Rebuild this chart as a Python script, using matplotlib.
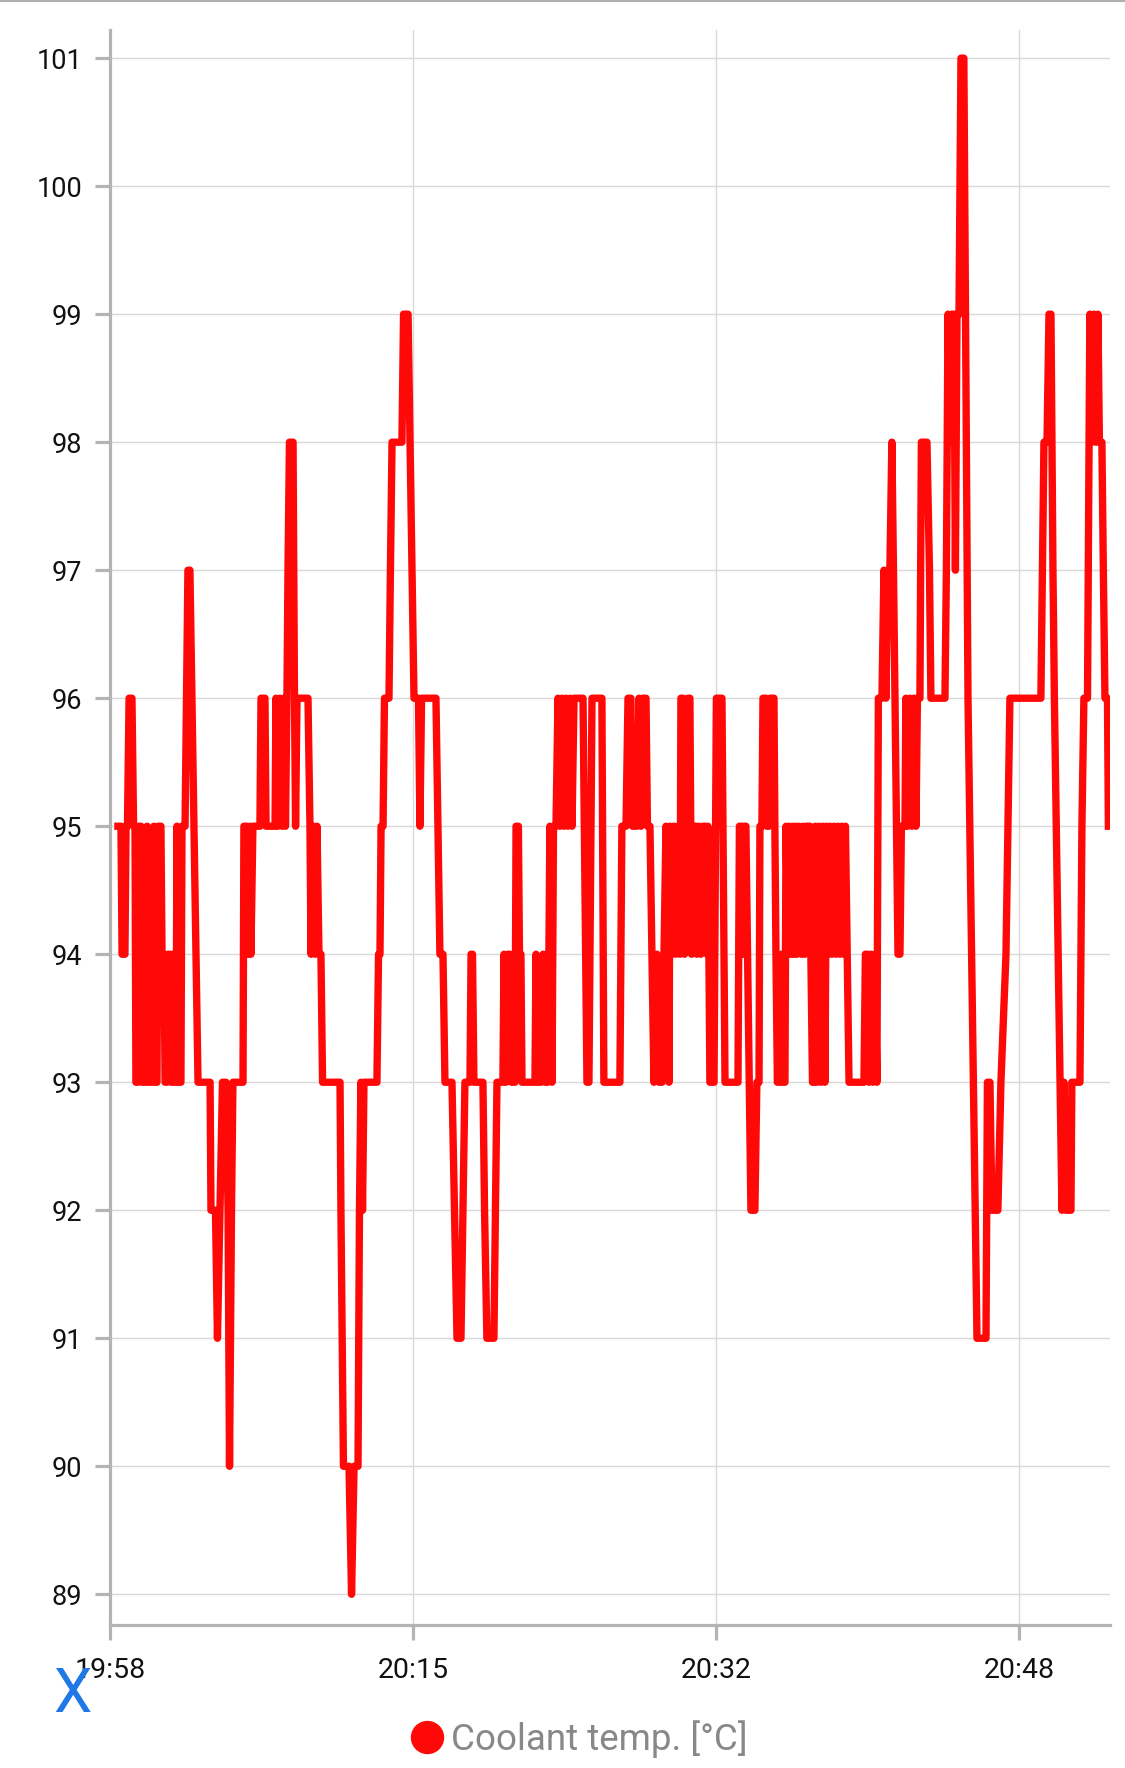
"""
Coolant temperature log (OBD session 19:58 - 20:52) as a line chart.
"""

import matplotlib
matplotlib.use("Agg")
import matplotlib.pyplot as plt
from matplotlib.lines import Line2D

# minutes after 19:58 (left edge of the chart)
minutes = [
    0.44, 0.61, 0.67, 0.83, 0.89, 0.97, 1.06, 1.22, 1.31, 1.39, 1.44, 1.56, 1.61, 1.72,
    1.78, 1.89, 1.94, 2.06, 2.11, 2.22, 2.28, 2.39, 2.44, 2.56, 2.61, 2.67, 2.83, 2.89,
    3.00, 3.06, 3.17, 3.22, 3.33, 3.39, 3.50, 3.56, 3.67, 3.72, 3.83, 3.94, 4.00, 4.17,
    4.25, 4.33, 4.44, 4.89, 5.56, 5.61, 5.86, 5.97, 6.11, 6.25, 6.44, 6.56, 6.64, 6.75,
    6.83, 7.39, 7.44, 7.61, 7.67, 7.78, 7.83, 7.94, 8.33, 8.39, 8.61, 8.67, 9.17, 9.22,
    9.33, 9.44, 9.56, 9.67, 9.75, 9.83, 9.89, 9.97, 10.17, 10.25, 10.31, 10.39, 11.00,
    11.11, 11.17, 11.28, 11.39, 11.50, 11.61, 11.72, 11.81, 12.78, 12.83, 12.97, 13.28,
    13.42, 13.56, 13.78, 13.86, 13.94, 14.03, 14.11, 14.83, 14.92, 15.00, 15.06, 15.17,
    15.25, 15.50, 15.58, 15.67, 16.22, 16.31, 16.56, 16.67, 16.78, 16.89, 17.14, 17.22,
    17.31, 18.11, 18.33, 18.50, 18.61, 19.00, 19.28, 19.50, 19.72, 20.00, 20.06, 20.14,
    20.22, 20.72, 20.81, 20.94, 21.33, 21.50, 21.83, 21.89, 22.00, 22.11, 22.22, 22.31,
    22.50, 22.56, 22.69, 22.75, 22.83, 22.89, 23.61, 23.67, 23.78, 23.94, 24.06, 24.17,
    24.28, 24.33, 24.44, 24.56, 24.64, 24.78, 24.89, 25.00, 25.11, 25.22, 25.33, 25.44,
    25.56, 25.67, 25.78, 26.28, 26.50, 26.61, 26.78, 27.33, 27.44, 28.33, 28.44, 28.67,
    28.78, 28.94, 29.03, 29.28, 29.39, 29.50, 29.61, 29.78, 29.86, 30.00, 30.11, 30.22,
    30.39, 30.50, 30.67, 30.78, 30.89, 31.00, 31.06, 31.11, 31.22, 31.33, 31.44, 31.56,
    31.67, 31.72, 31.83, 31.92, 32.00, 32.11, 32.22, 32.31, 32.39, 32.56, 32.61, 32.72,
    32.83, 32.94, 33.06, 33.17, 33.22, 33.33, 33.56, 33.69, 34.00, 34.17, 34.89, 34.97,
    35.11, 35.17, 35.25, 35.33, 35.61, 35.83, 35.94, 36.06, 36.11, 36.22, 36.28, 36.44,
    36.50, 36.61, 36.67, 36.89, 36.94, 37.00, 37.08, 37.22, 37.28, 37.39, 37.50, 37.56,
    37.67, 37.72, 37.83, 37.92, 38.00, 38.08, 38.17, 38.25, 38.42, 38.50, 38.61, 38.69,
    38.89, 38.94, 39.03, 39.11, 39.19, 39.28, 39.39, 39.50, 39.61, 39.72, 39.81, 39.89,
    40.00, 40.11, 40.22, 40.33, 40.44, 40.56, 40.67, 40.78, 40.86, 41.06, 41.89, 41.97,
    42.11, 42.17, 42.28, 42.39, 42.50, 42.61, 42.69, 42.89, 43.00, 43.11, 43.22, 43.33,
    43.44, 43.53, 43.78, 43.89, 43.97, 44.17, 44.22, 44.33, 44.44, 44.56, 44.67, 44.78,
    44.86, 45.00, 45.08, 45.39, 45.53, 45.61, 46.39, 46.47, 46.56, 46.67, 46.78, 46.89,
    46.97, 47.06, 47.17, 47.28, 47.44, 47.67, 48.17, 48.67, 48.75, 48.89, 49.00, 49.33,
    49.50, 49.78, 50.00, 51.72, 51.89, 52.06, 52.17, 52.28, 52.39, 52.47, 52.89, 53.00,
    53.11, 53.39, 53.44, 53.89, 54.00, 54.11, 54.31, 54.44, 54.56, 54.67, 54.78, 54.89,
    54.97, 55.11, 55.19, 55.28, 55.42, 55.47,
]

# coolant temperature [°C]
coolant_temp = [
    95, 95, 94, 94, 95, 95, 96, 96, 95, 95, 93, 93, 95, 95,
    93, 94, 93, 95, 93, 94, 93, 93, 95, 93, 93, 95, 95, 94,
    94, 93, 93, 94, 94, 93, 94, 93, 93, 95, 93, 93, 95, 95,
    96, 97, 97, 93, 93, 92, 92, 91, 92, 93, 93, 92, 90, 92,
    93, 93, 95, 95, 94, 95, 94, 95, 95, 96, 96, 95, 95, 96,
    95, 96, 95, 96, 95, 96, 97, 98, 98, 96, 95, 96, 96,
    95, 94, 95, 94, 95, 94, 94, 93, 93, 92, 90, 90,
    89, 90, 90, 92, 93, 92, 93, 93, 94, 94, 95, 95,
    96, 96, 97, 98, 98, 99, 99, 98, 97, 96, 96, 95,
    96, 96, 94, 94, 93, 93, 91, 91, 93, 93, 94, 94,
    93, 93, 92, 91, 91, 93, 93, 94, 93, 94, 94, 93,
    93, 95, 95, 94, 94, 93, 93, 94, 93, 93, 94, 93,
    94, 93, 95, 93, 95, 95, 96, 95, 96, 95, 96, 95,
    96, 95, 96, 96, 93, 93, 96, 96, 93, 93, 95, 95,
    96, 96, 95, 95, 96, 95, 96, 96, 95, 95, 94, 93,
    94, 93, 93, 94, 95, 94, 93, 95, 94, 95, 94, 95,
    94, 96, 96, 94, 95, 96, 96, 94, 95, 95, 94, 95,
    94, 95, 95, 94, 95, 93, 93, 96, 96, 93, 93, 95,
    95, 94, 95, 95, 92, 92, 93, 93, 95, 95, 96, 96,
    95, 95, 96, 96, 95, 94, 93, 93, 94, 93, 93, 95,
    94, 95, 94, 95, 94, 95, 94, 95, 94, 95, 94, 95,
    95, 94, 93, 93, 95, 93, 95, 93, 95, 93, 95, 94,
    95, 94, 95, 94, 95, 94, 95, 94, 95, 93, 93, 94,
    94, 93, 94, 93, 94, 93, 96, 96, 97, 96, 97, 97,
    98, 97, 94, 94, 95, 95, 96, 95, 96, 95, 96, 95,
    96, 96, 98, 98, 97, 96, 96, 97, 99, 98, 99, 99,
    97, 99, 99, 101, 101, 96, 91, 91, 93, 93, 92, 92,
    93, 94, 96, 96, 98, 98, 99, 99, 97, 96, 92, 93,
    92, 92, 93, 93, 95, 96, 96, 99, 98, 99, 98, 99,
    98, 98, 97, 96, 96, 95,
]

tick_minutes = [0.0, 16.83, 33.67, 50.5]
tick_labels = ["19:58", "20:15", "20:32", "20:48"]
temp_ticks = [89, 90, 91, 92, 93, 94, 95, 96, 97, 98, 99, 100, 101]
series_name = "Coolant temp. [°C]"

FIG_W, FIG_H = 1125, 1768
AXIS_GREY = "#b4b4b4"
GRID_GREY = "#d9d9d9"
RED = "#ff0808"


def plot_coolant(minutes, temps):
    plt.rcParams["font.family"] = ["Roboto", "DejaVu Sans"]

    fig = plt.figure(figsize=(FIG_W / 100, FIG_H / 100), dpi=100)
    fig.patch.set_facecolor("white")
    ax = fig.add_axes([110 / FIG_W, 143 / FIG_H, 1000 / FIG_W, 1595 / FIG_H])

    ax.plot(minutes, temps, color=RED, linewidth=5.3,
            solid_joinstyle="round", zorder=3)

    ax.set_xlim(0, 55.56)
    ax.set_ylim(88.76, 101.22)
    ax.set_xticks(tick_minutes)
    ax.set_xticklabels(tick_labels)
    ax.set_yticks(temp_ticks)

    ax.grid(True, color=GRID_GREY, linewidth=1.0, zorder=0)
    for side in ("top", "right"):
        ax.spines[side].set_visible(False)
    for side in ("left", "bottom"):
        ax.spines[side].set_color(AXIS_GREY)
        ax.spines[side].set_linewidth(2.3)

    ax.tick_params(axis="both", colors=AXIS_GREY, width=2.3, length=11,
                   labelcolor="#111111")
    ax.tick_params(axis="x", pad=12, labelsize=20.5)
    ax.tick_params(axis="y", pad=9, labelsize=19.5)

    # legend below the plot
    handle = Line2D([], [], marker="o", color=RED, linestyle="None", markersize=23)
    fig.legend(handles=[handle], labels=[series_name], loc="center",
               bbox_to_anchor=(578 / FIG_W, 1 - 1739 / FIG_H), frameon=False,
               fontsize=26.5, labelcolor="#888888", handletextpad=0.15,
               handlelength=1.0, borderpad=0)

    # close button of the app and the top border of the screen
    fig.text(72 / FIG_W, 1 - 1695 / FIG_H, "X", color="#1f78e6", fontsize=44,
             ha="center", va="center")
    fig.add_artist(Line2D([0, 1], [1 - 1 / FIG_H] * 2, color="#b0b0b0",
                          linewidth=1.5, transform=fig.transFigure))
    return fig


if __name__ == "__main__":
    fig = plot_coolant(minutes, coolant_temp)
    fig.savefig("out.png", dpi=100)
    plt.close(fig)
